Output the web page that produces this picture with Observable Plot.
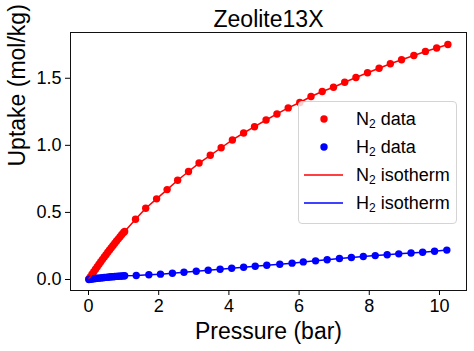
<!DOCTYPE html>
<html>
<head>
<meta charset="utf-8">
<script src="https://cdn.jsdelivr.net/npm/d3@7"></script>
<script src="https://cdn.jsdelivr.net/npm/@observablehq/plot@0.6"></script>
<style>
  html, body { margin: 0; padding: 0; background: #fff; }
  #wrap { position: relative; width: 474px; height: 351px; font-family: "Liberation Sans", Arial, sans-serif; }
  #legend { position: absolute; left: 298px; top: 101px; width: 157px; height: 121px;
    border: 1px solid #d4d4d4; border-radius: 4px; background: rgba(255,255,255,0.8); }
  .row { position: absolute; left: 0; width: 100%; height: 24px; }
  .row svg { position: absolute; left: 0; top: 0; }
  .row span { position: absolute; left: 57px; top: 1px; font-size: 18px; line-height: 22px; color: #000; white-space: nowrap; }
  .row sub { font-size: 12px; vertical-align: -3px; line-height: 0; }
</style>
</head>
<body>
<div id="wrap"></div>
<script>
// ---- Data ----
const title = "Zeolite13X";
const xLabel = "Pressure (bar)";
const yLabel = "Uptake (mol/kg)";
const xTicks = [0, 2, 4, 6, 8, 10];
const yTicks = [0.0, 0.5, 1.0, 1.5];

// N2 data
const n2Pressure = [0.01, 0.05, 0.10, 0.15, 0.20, 0.25, 0.30, 0.35, 0.40, 0.45, 0.50, 0.55, 0.60, 0.65, 0.70, 0.75, 0.80, 0.85, 0.90, 0.95, 1.00, 1.03,
  1.34, 1.63, 1.94, 2.24, 2.54, 2.85, 3.15, 3.47, 3.78, 4.10, 4.42, 4.73, 5.06, 5.37, 5.69, 6.02, 6.34, 6.66, 6.98, 7.30, 7.62, 7.95, 8.28, 8.60, 8.92, 9.27, 9.60, 9.92, 10.24];
const n2Uptake = [0.004, 0.019, 0.039, 0.058, 0.077, 0.095, 0.114, 0.132, 0.150, 0.168, 0.185, 0.203, 0.220, 0.237, 0.254, 0.271, 0.287, 0.303, 0.319, 0.335, 0.350, 0.358,
  0.449, 0.531, 0.601, 0.670, 0.740, 0.805, 0.868, 0.926, 0.982, 1.040, 1.092, 1.139, 1.189, 1.234, 1.279, 1.319, 1.364, 1.401, 1.433, 1.470, 1.506, 1.541, 1.575, 1.608, 1.638, 1.670, 1.700, 1.725, 1.752];

// H2 data
const h2Pressure = [0.01, 0.05, 0.10, 0.15, 0.20, 0.25, 0.30, 0.35, 0.40, 0.45, 0.50, 0.55, 0.60, 0.65, 0.70, 0.75, 0.80, 0.85, 0.90, 0.95, 1.00, 1.03,
  1.36, 1.72, 2.05, 2.39, 2.72, 3.07, 3.41, 3.75, 4.08, 4.42, 4.75, 5.08, 5.45, 5.80, 6.12, 6.47, 6.80, 7.15, 7.49, 7.83, 8.17, 8.51, 8.84, 9.19, 9.52, 9.86, 10.21];
const h2Uptake = [0.0005, 0.002, 0.004, 0.006, 0.007, 0.009, 0.010, 0.012, 0.013, 0.015, 0.016, 0.017, 0.019, 0.020, 0.021, 0.022, 0.023, 0.024, 0.025, 0.026, 0.027, 0.028,
  0.030, 0.035, 0.040, 0.047, 0.054, 0.061, 0.069, 0.076, 0.084, 0.091, 0.099, 0.106, 0.114, 0.122, 0.131, 0.139, 0.147, 0.156, 0.164, 0.171, 0.178, 0.185, 0.191, 0.197, 0.203, 0.210, 0.219];

const n2 = n2Pressure.map((p, i) => ({p, q: n2Uptake[i]}));
const h2 = h2Pressure.map((p, i) => ({p, q: h2Uptake[i]}));

const font = "'Liberation Sans', Arial, sans-serif";

const chart = Plot.plot({
  width: 474,
  height: 351,
  marginLeft: 70,
  marginRight: 8,
  marginTop: 32,
  marginBottom: 61,
  style: {fontFamily: font, fontSize: "18px", background: "#fff", color: "#000", overflow: "visible"},
  x: {domain: [-0.513, 10.77]},
  y: {domain: [-0.082, 1.841]},
  marks: [
    Plot.dot(n2, {x: "p", y: "q", r: 3.7, fill: "red", stroke: "none"}),
    Plot.dot(h2, {x: "p", y: "q", r: 3.7, fill: "blue", stroke: "none"}),
    Plot.line(n2, {x: "p", y: "q", stroke: "red", strokeWidth: 1.5}),
    Plot.line(h2, {x: "p", y: "q", stroke: "blue", strokeWidth: 1.5}),
    Plot.frame({stroke: "#111", strokeWidth: 1}),
    Plot.axisX({ticks: xTicks, tickSize: 5, tickPadding: 4, tickFormat: d3.format("d"), label: null, fontSize: 18}),
    Plot.axisY({ticks: yTicks, tickSize: 5, tickPadding: 4, tickFormat: d3.format(".1f"), label: null, fontSize: 18}),
    Plot.text([title], {frameAnchor: "top", lineAnchor: "bottom", dy: -6, fontSize: 23, fill: "#000"}),
    Plot.text([xLabel], {frameAnchor: "bottom", lineAnchor: "bottom", dy: 48, fontSize: 23, fill: "#000"}),
    Plot.text([yLabel], {frameAnchor: "left", lineAnchor: "bottom", rotate: -90, dx: -46, dy: 5, fontSize: 23, fill: "#000"})
  ]
});

const wrap = document.getElementById("wrap");
wrap.appendChild(chart);

// ---- Legend (overlay) ----
const legendItems = [
  {name: "N", sub: "2", rest: " data", color: "red", kind: "dot"},
  {name: "H", sub: "2", rest: " data", color: "blue", kind: "dot"},
  {name: "N", sub: "2", rest: " isotherm", color: "red", kind: "line"},
  {name: "H", sub: "2", rest: " isotherm", color: "blue", kind: "line"}
];
const legend = document.createElement("div");
legend.id = "legend";
const rowTops = [5, 33, 61, 89];
legendItems.forEach((it, i) => {
  const row = document.createElement("div");
  row.className = "row";
  row.style.top = rowTops[i] + "px";
  const sym = it.kind === "dot"
    ? `<circle cx="25" cy="12" r="3.7" fill="${it.color}"/>`
    : `<line x1="5" x2="44" y1="12" y2="12" stroke="${it.color}" stroke-width="1.5"/>`;
  row.innerHTML = `<svg width="50" height="24">${sym}</svg><span>${it.name}<sub>${it.sub}</sub>${it.rest}</span>`;
  legend.appendChild(row);
});
wrap.appendChild(legend);
</script>
</body>
</html>
